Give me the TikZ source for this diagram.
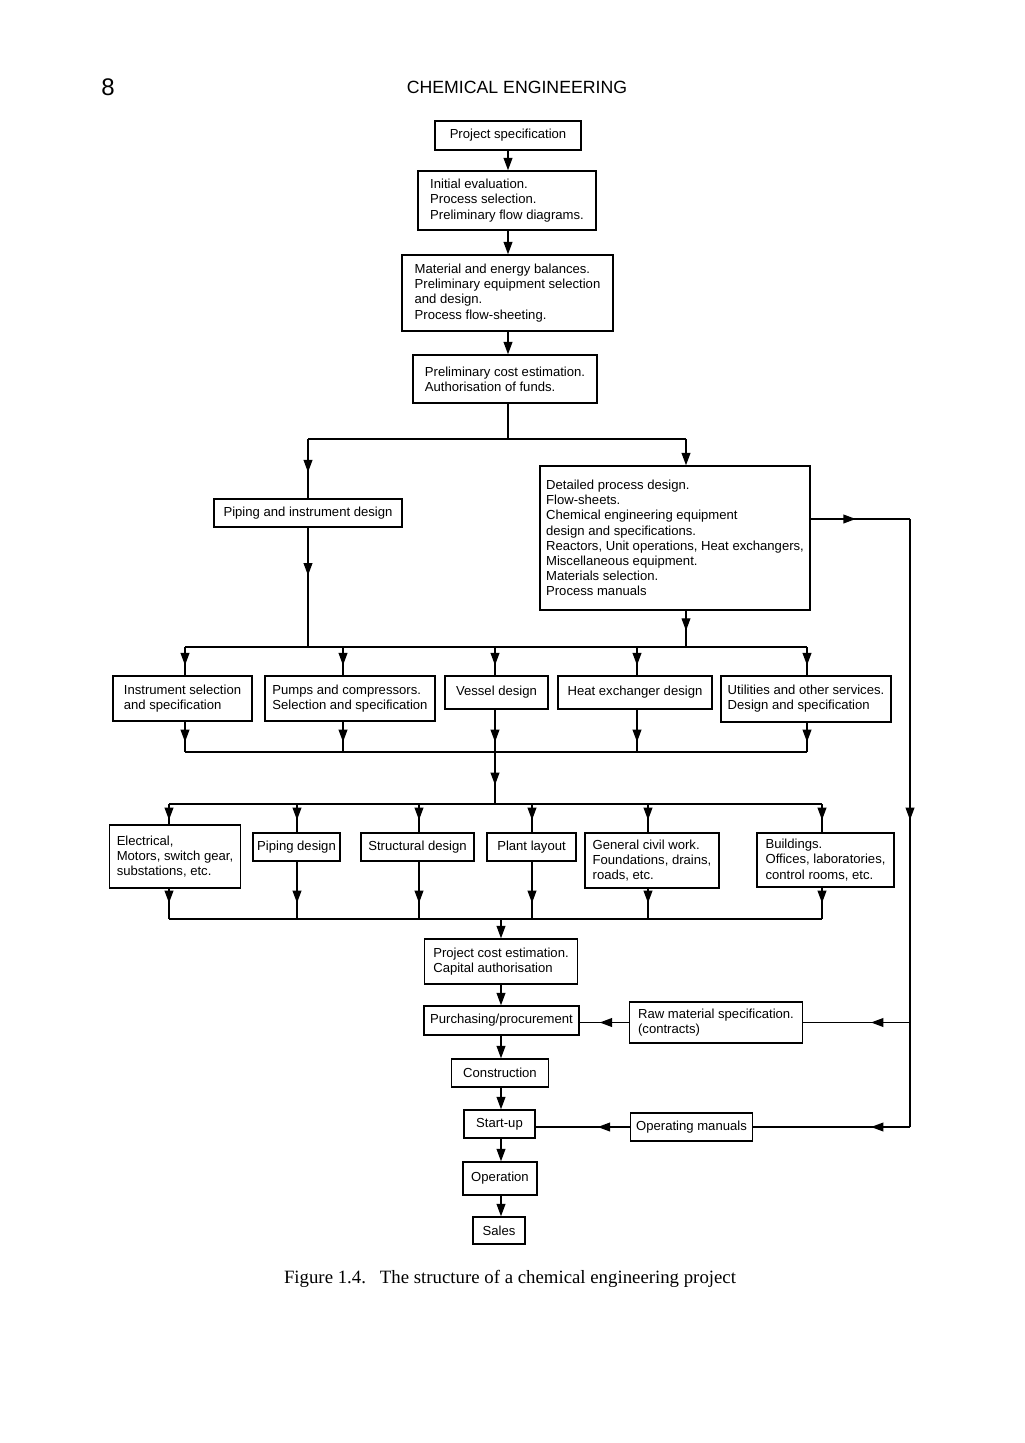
\documentclass[tikz,border=0pt]{standalone}
\usepackage{fontspec}
\setmainfont{Liberation Sans}
\newfontfamily\captionfont{Liberation Serif}
\usetikzlibrary{arrows.meta,decorations.markings,calc}
\tikzset{
>={Triangle[length=6.2pt,width=4.4pt]}, % filled heads
blk/.style={draw, line width=0.7pt, align=left, inner sep=1pt, font=\fontsize{6.55}{7.6}\selectfont},
wh/.style 2 args={minimum width=#1*0.5pt, minimum height=#2*0.5pt},
arrowat/.style={postaction={decorate,decoration={markings,mark=at position #1 with {\arrow{>}}}}},
}

\begin{document}
\begin{tikzpicture}[x=0.5pt,y=0.5pt,yscale=-1,line width=0.7pt]
\useasboundingbox (0,0) rectangle (1024,1443);
%Header
\node (pgno) at (108,87) {\fontsize{12}{14}\selectfont 8};
\node (runhead) at (517,87) {\fontsize{8.85}{10}\selectfont CHEMICAL ENGINEERING};
%Main column
\node[blk,wh={146}{29}] (spec) at (508,135.5) {Project specification};
\node[blk,wh={178}{59}] (evalu) at (507,200.5) {Initial evaluation.\\Process selection.\\Preliminary flow diagrams.};
\node[blk,wh={211}{76}] (balance) at (507.5,293) {Material and energy balances.\\Preliminary equipment selection\\and design.\\Process flow-sheeting.};
\node[blk,wh={184}{48}] (cost) at (505,379) {Preliminary cost estimation.\\Authorisation of funds.};
\draw[->] (spec.south) -- (spec.south |- evalu.north);
\draw[->] (evalu.south -| spec) -- (balance.north -| spec);
\draw[->] (balance.south -| spec) -- (cost.north -| spec);
%Split
\coordinate (split) at (508,439);
\coordinate (splitR) at (686,439);
\node[blk,wh={188}{28}] (pid) at (308,513) {Piping and instrument design};
\node[blk,wh={270}{144}] (detail) at (675,538) {Detailed process design.\\Flow-sheets.\\Chemical engineering equipment\\design and specifications.\\Reactors, Unit operations, Heat exchangers,\\Miscellaneous equipment.\\Materials selection.\\Process manuals};
\draw (cost.south -| spec) -- (split);
\draw (pid.north |- split) -- (splitR);
\draw[arrowat=-13pt] (pid.north |- split) -- (pid.north);
\draw[->] (splitR) -- (splitR |- detail.north);
%Second row
\coordinate (dist1) at (495,647);
\coordinate (coll1) at (495,752);
\node[blk,wh={139}{45}] (isel) at (182.5,698.5) {Instrument selection\\and specification};
\node[blk,wh={170}{45}] (pumps) at (350,698.5) {Pumps and compressors.\\Selection and specification};
\node[blk,wh={103}{33}] (vessel) at (496.5,692.5) {Vessel design};
\node[blk,wh={154}{33}] (hex) at (635,692.5) {Heat exchanger design};
\node[blk,wh={170}{46}] (util) at (806,699) {Utilities and other services.\\Design and specification};
\draw[arrowat=0.4] (pid.south) -- (pid.south |- dist1);
\draw[arrowat=0.55] (splitR |- detail.south) -- (splitR |- dist1);
\draw ([xshift=1.25pt]isel.north |- dist1) -- ([xshift=0.5pt]util.north |- dist1);
\draw ([xshift=1.25pt]isel.north |- coll1) -- ([xshift=0.5pt]util.north |- coll1);
\foreach \b/\dx in {isel/1.25,pumps/-3.5,vessel/-0.75,hex/1,util/0.5}{
  \draw[arrowat=-5pt] ([xshift=\dx pt]\b.north |- dist1) -- ([xshift=\dx pt]\b.north);
  \draw[arrowat=-5pt] ([xshift=\dx pt]\b.south) -- ([xshift=\dx pt]\b.south |- coll1);
}
%Third row
\coordinate (dist2) at (495,804);
\coordinate (coll2) at (501,919);
\draw[arrowat=-9.5pt] (coll1) -- (dist2);
\node[blk,wh={130.5}{63}] (elec) at (175,856.5) {Electrical,\\Motors, switch gear,\\substations, etc.};
\node[blk,wh={87}{28}] (pipe) at (296.5,847) {Piping design};
\node[blk,wh={113}{28}] (struct) at (417.5,847) {Structural design};
\node[blk,wh={89}{28}] (layout) at (531.5,847) {Plant layout};
\node[blk,wh={134}{55}] (civil) at (652,860.5) {General civil work.\\Foundations, drains,\\roads, etc.};
\node[blk,wh={137}{54}] (bldg) at (825.5,860) {Buildings.\\Offices, laboratories,\\control rooms, etc.};
\draw ([xshift=-3pt]elec.north |- dist2) -- ([xshift=-1.75pt]bldg.north |- dist2);
\draw ([xshift=-3pt]elec.north |- coll2) -- ([xshift=-1.75pt]bldg.north |- coll2);
\foreach \b/\dx in {elec/-3,pipe/0.25,struct/0.75,layout/0.25,civil/-2,bldg/-1.75}{
  \draw[arrowat=8pt] ([xshift=\dx pt]\b.north |- dist2) -- ([xshift=\dx pt]\b.north);
  \draw[arrowat=-8pt] ([xshift=\dx pt]\b.south) -- ([xshift=\dx pt]\b.south |- coll2);
}
%Lower column
\node[blk,wh={153.5}{45}] (pcost) at (501,961.5) {Project cost estimation.\\Capital authorisation};
\node[blk,wh={155}{29}] (purch) at (501.5,1020.5) {Purchasing/procurement};
\node[blk,wh={172.5}{41}] (raw) at (716,1022.5) {Raw material specification.\\(contracts)};
\node[blk,wh={97.5}{28}] (constr) at (500,1073) {Construction};
\node[blk,wh={71}{28}] (startup) at (499.5,1124) {Start-up};
\node[blk,wh={122}{28}] (opman) at (691.5,1127) {Operating manuals};
\node[blk,wh={74}{33}] (oper) at (500,1178.5) {Operation};
\node[blk,wh={52}{27}] (sales) at (499,1230.5) {Sales};
\draw[->] (coll2) -- (pcost.north);
\draw[->] (pcost.south) -- (purch.north -| pcost);
\draw[->] (purch.south -| pcost) -- (constr.north -| pcost);
\draw[->] (constr.south -| pcost) -- (startup.north -| pcost);
\draw[->] (startup.south -| pcost) -- (oper.north -| pcost);
\draw[->] (oper.south -| pcost) -- (sales.north -| pcost);
\draw[arrowat=-10pt] (raw.west) -- (raw.west -| purch.east);
\draw[arrowat=-31pt] (opman.west) -- (opman.west -| startup.east);
%Feed line on the right
\coordinate (feed) at (910,519);
\draw[arrowat=22.5pt] (detail.east |- feed) -- (feed);
\draw[arrowat=150.5pt] (feed) -- (feed |- opman.east);
\draw[arrowat=19.5pt] (feed |- raw.east) -- (raw.east);
\draw[arrowat=19.5pt] (feed |- opman.east) -- (opman.east);
%Caption
\node (cap) at (510,1279) {\captionfont\fontsize{9.4}{11}\selectfont Figure 1.4.\hspace{7pt}The structure of a chemical engineering project};
\end{tikzpicture}
\end{document}
